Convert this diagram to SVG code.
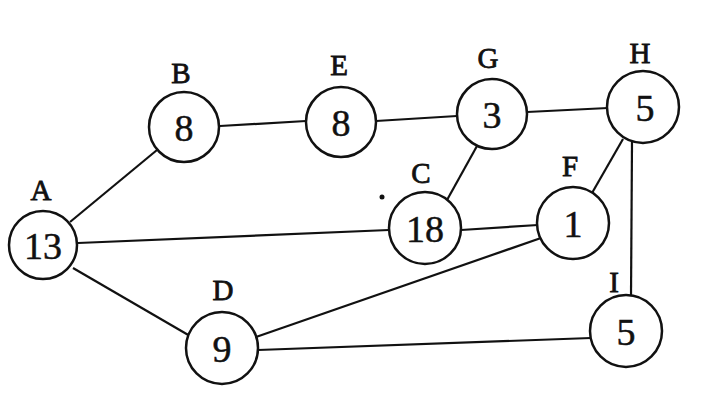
<svg xmlns="http://www.w3.org/2000/svg" width="720" height="400" viewBox="0 0 720 400">
<style>
.n circle{fill:#fff;stroke:#111;stroke-width:2.5}
.n circle.dot{fill:#111;stroke:none}
.v{font-family:"Liberation Serif",serif;font-size:38px;fill:#111;stroke:#111;stroke-width:0.5;text-anchor:middle}
.l{font-family:"Liberation Serif",serif;font-size:29px;fill:#111;stroke:#111;stroke-width:0.8;text-anchor:middle}
#edges line{stroke:#111;stroke-width:2.2}
</style>
<rect width="720" height="400" fill="#fff"/>
<g id="edges">
<line x1="70" y1="222" x2="157" y2="150"/>
<line x1="78" y1="243" x2="389" y2="230"/>
<line x1="73" y1="268" x2="190" y2="336"/>
<line x1="220" y1="126" x2="306" y2="121"/>
<line x1="376" y1="121" x2="457" y2="116"/>
<line x1="527" y1="112" x2="608" y2="108"/>
<line x1="477" y1="146" x2="447" y2="200"/>
<line x1="461" y1="230" x2="538" y2="225"/>
<line x1="541" y1="238" x2="256" y2="337"/>
<line x1="623" y1="139" x2="592" y2="193"/>
<line x1="632" y1="142" x2="631" y2="297"/>
<line x1="258" y1="350" x2="591" y2="338"/>
</g>
<g id="A" class="n"><circle cx="43" cy="245" r="34"/><text class="v" x="43" y="259">13</text><text class="l" x="41" y="200">A</text></g>
<g id="B" class="n"><circle cx="184" cy="127" r="35"/><text class="v" x="184" y="141">8</text><text class="l" x="181" y="83">B</text></g>
<g id="E" class="n"><circle cx="341" cy="122" r="35"/><text class="v" x="341" y="136">8</text><text class="l" x="339" y="75">E</text></g>
<g id="G" class="n"><circle cx="492" cy="114" r="35"/><text class="v" x="492" y="128">3</text><text class="l" x="488" y="68">G</text></g>
<g id="H" class="n"><circle cx="643" cy="107" r="36"/><text class="v" x="645" y="121">5</text><text class="l" x="640" y="63">H</text></g>
<g id="C" class="n"><circle cx="425" cy="228" r="36"/><text class="v" x="425" y="242">18</text><text class="l" x="421" y="183">C</text><circle class="dot" cx="382" cy="197" r="2.5"/></g>
<g id="F" class="n"><circle cx="573" cy="223" r="36"/><text class="v" x="573" y="237">1</text><text class="l" x="570" y="176">F</text></g>
<g id="D" class="n"><circle cx="222" cy="348" r="36"/><text class="v" x="222" y="362">9</text><text class="l" x="223" y="300">D</text></g>
<g id="I" class="n"><circle cx="626" cy="331" r="36"/><text class="v" x="626" y="345">5</text><text class="l" x="614" y="292">I</text></g>
</svg>
